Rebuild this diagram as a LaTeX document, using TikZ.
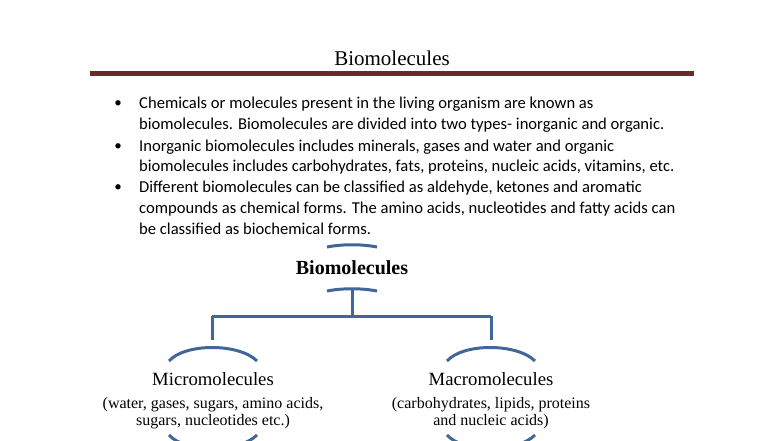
\documentclass[tikz,border=0pt]{standalone}
\usepackage{fontspec}
\setmainfont{Liberation Serif}
\newfontfamily\calfnt{Carlito}
\definecolor{bar}{HTML}{6B2A2A}
\definecolor{ln}{HTML}{41679A}
\begin{document}
\begin{tikzpicture}[x=1pt,y=-1pt,
  bl/.style={anchor=west,inner sep=0,font=\calfnt\fontsize{16.6}{18}\selectfont},
  dot/.style={anchor=center,inner sep=0,font=\calfnt\fontsize{15}{18}\selectfont},
  conn/.style={draw=ln,line width=3pt},
  lbl/.style={inner sep=0,font=\fontsize{18.7}{20}\selectfont},
  sub/.style={inner sep=0,align=center,font=\fontsize{16}{17.5}\selectfont}]
\useasboundingbox (0,0) rectangle (784,441);
\clip (0,0) rectangle (784,441);
\node[inner sep=0,font=\fontsize{21}{22}\selectfont] (title) at (392,58) {Biomolecules};
\fill[bar] (90,71) rectangle (694,76);
\foreach \y in {104,147,188} \node[dot] at (118,\y) {•};
\node[bl] (l1) at (139,104) {Chemicals or molecules present in the living organism are known as};
\node[bl] (l2) at (139,125) {biomolecules. Biomolecules are divided into two types- inorganic and organic.};
\node[bl] (l3) at (139,147) {Inorganic biomolecules includes minerals, gases and water and organic};
\node[bl] (l4) at (139,167) {biomolecules includes carbohydrates, fats, proteins, nucleic acids, vitamins, etc.};
\node[bl] (l5) at (139,188) {Different biomolecules can be classified as aldehyde, ketones and aromatic};
\node[bl] (l6) at (139,209) {compounds as chemical forms. The amino acids, nucleotides and fatty acids can};
\node[bl] (l7) at (139,229) {be classified as biochemical forms.};
\node[inner sep=0,font=\bfseries\fontsize{20}{22}\selectfont] (bio) at (352,268) {Biomolecules};
\node[lbl] (mic) at (213,379) {Micromolecules};
\node[lbl] (mac) at (491,379) {Macromolecules};
\node[sub] (mics) at (213,413) {(water, gases, sugars, amino acids,\\sugars, nucleotides etc.)};
\node[sub] (macs) at (491,413) {(carbohydrates, lipids, proteins\\and nucleic acids)};
\draw[conn] (327,247) .. controls (343,244) and (361,244) .. (377,247);
\draw[conn] (327,291) .. controls (343,288) and (361,288) .. (377,291);
\coordinate (top) at (352,289);
\coordinate (j) at (352,316);
\coordinate (jl) at (212,316);
\coordinate (jr) at (491,316);
\draw[conn] (top) -- (j);
\draw[conn] (jl) -- (jr);
\draw[conn] (jl) -- (212,340);
\draw[conn] (jr) -- (491,340);
\draw[conn] (169,361) .. controls (185,343) and (239,343) .. (257,361);
\draw[conn] (447,361) .. controls (463,343) and (517,343) .. (535,361);
\draw[conn] (169,435) .. controls (185,453) and (239,453) .. (257,435);
\draw[conn] (447,435) .. controls (463,453) and (517,453) .. (535,435);
\end{tikzpicture}
\end{document}
